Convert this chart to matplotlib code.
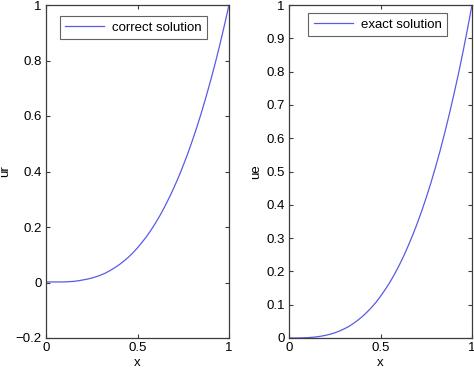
import matplotlib.pyplot as plt
import numpy as np

plt.rcParams['font.family'] = ['Liberation Sans', 'DejaVu Sans']
plt.rcParams['font.size'] = 9.5

# values
x = [0, 0.025, 0.05, 0.075, 0.1, 0.125, 0.15, 0.175, 0.2, 0.225, 0.25, 0.275,
     0.3, 0.325, 0.35, 0.375, 0.4, 0.425, 0.45, 0.475, 0.5, 0.525, 0.55, 0.575,
     0.6, 0.625, 0.65, 0.675, 0.7, 0.725, 0.75, 0.775, 0.8, 0.825, 0.85, 0.875,
     0.9, 0.925, 0.95, 0.975, 1.0]
ur = [0.002, 0.002, 0.002, 0.002, 0.002, 0.003, 0.004, 0.006, 0.009, 0.012, 0.016, 0.021,
      0.027, 0.034, 0.043, 0.053, 0.064, 0.077, 0.091, 0.107, 0.125, 0.145, 0.166, 0.19,
      0.216, 0.244, 0.275, 0.308, 0.343, 0.381, 0.422, 0.465, 0.512, 0.561, 0.614, 0.67,
      0.729, 0.791, 0.857, 0.927, 1.0]
ue = [0, 0.0, 0.0001, 0.0004, 0.001, 0.002, 0.0034, 0.0054, 0.008, 0.0114, 0.0156, 0.0208,
      0.027, 0.034, 0.043, 0.053, 0.064, 0.077, 0.091, 0.107, 0.125, 0.145, 0.166, 0.19,
      0.216, 0.244, 0.275, 0.308, 0.343, 0.381, 0.422, 0.465, 0.512, 0.561, 0.614, 0.67,
      0.729, 0.791, 0.857, 0.927, 1.0]

line_col = '#5a5ae6'
axis_col = '#3c3c3c'

fig = plt.figure(figsize=(4.74, 3.69), dpi=100)
ax1 = fig.add_axes([46 / 474, 1 - 338 / 369, 183 / 474, 333 / 369])
ax2 = fig.add_axes([289 / 474, 1 - 338 / 369, 183 / 474, 333 / 369])


def style(ax):
    ax.tick_params(direction='in', top=True, right=True, length=3,
                   color=axis_col, labelcolor='black', pad=3)
    for s in ax.spines.values():
        s.set_color(axis_col)
        s.set_linewidth(0.9)
    ax.set_xlim(0, 1)
    ax.set_xticks([0, 0.5, 1])
    ax.set_xticklabels(['0', '0.5', '1'])
    ax.set_xlabel('x', labelpad=2)


ax1.plot(x, ur, color=line_col, lw=0.9, label='correct solution')
style(ax1)
ax1.set_ylim(-0.2, 1)
ax1.set_yticks([-0.2, 0, 0.2, 0.4, 0.6, 0.8, 1])
ax1.set_yticklabels(['\u22120.2', '0', '0.2', '0.4', '0.6', '0.8', '1'])
ax1.set_ylabel('ur', labelpad=3)
leg1 = ax1.legend(loc='upper center', bbox_to_anchor=(0.478, 0.967), borderaxespad=0,
                  fancybox=False, edgecolor=axis_col, handlelength=3.0,
                  borderpad=0.4, handletextpad=0.6)
leg1.get_frame().set_linewidth(0.8)

ax2.plot(x, ue, color=line_col, lw=0.9, label='exact solution')
style(ax2)
ax2.set_ylim(0, 1)
ax2.set_yticks(np.arange(0, 1.01, 0.1))
ax2.set_yticklabels(['0', '0.1', '0.2', '0.3', '0.4', '0.5', '0.6', '0.7', '0.8', '0.9', '1'])
ax2.set_ylabel('ue', labelpad=3)
leg2 = ax2.legend(loc='upper center', bbox_to_anchor=(0.486, 0.976), borderaxespad=0,
                  fancybox=False, edgecolor=axis_col, handlelength=3.0,
                  borderpad=0.4, handletextpad=0.6)
leg2.get_frame().set_linewidth(0.8)

fig.savefig('out.png', dpi=100)
